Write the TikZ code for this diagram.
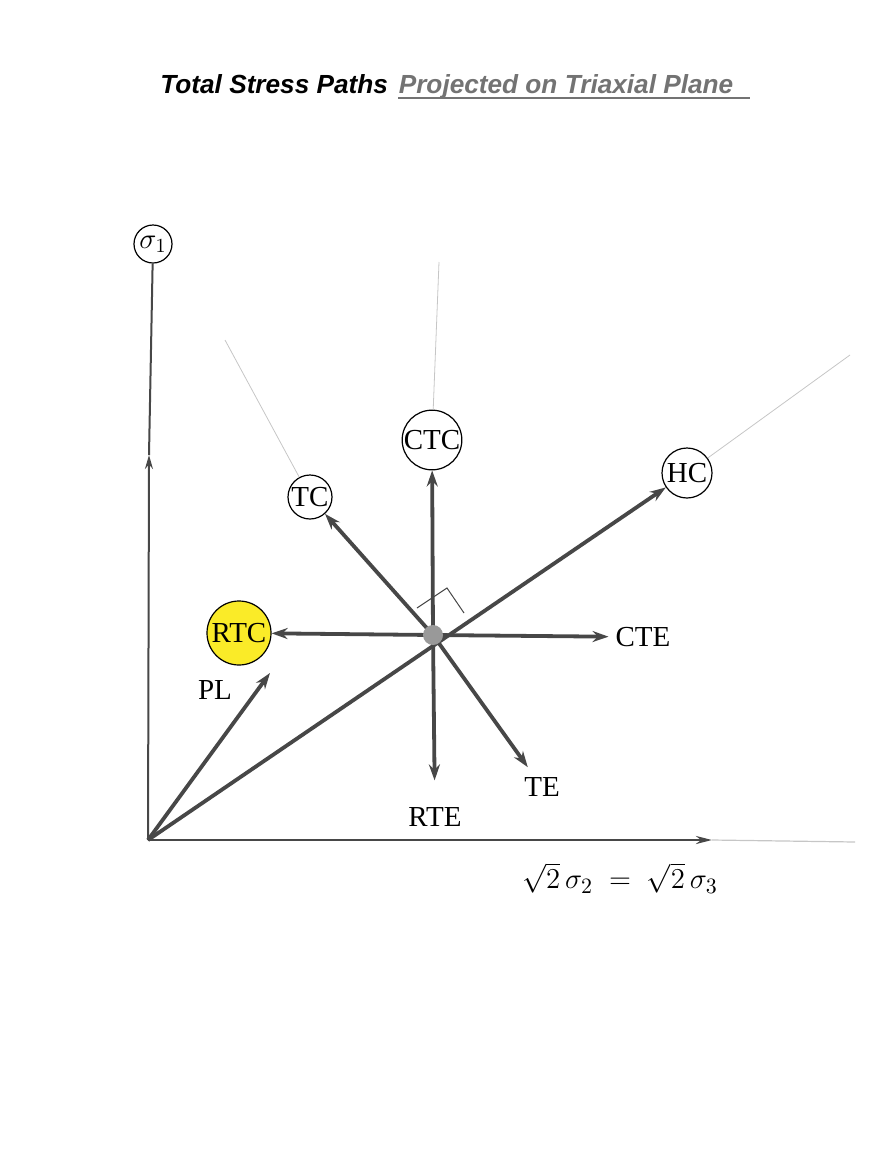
\documentclass[tikz,border=0pt]{standalone}
\usepackage{fontspec}
\setmainfont{Liberation Serif}
\newfontfamily\titlefont{Liberation Sans}
\usetikzlibrary{arrows.meta}

\definecolor{pathgray}{gray}{0.28}
\definecolor{titlegray}{gray}{0.45}
\definecolor{rtcyellow}{RGB}{250,235,40}

\begin{document}
\begin{tikzpicture}[x=0.5pt, y=-0.5pt,
		spath/.style={draw=pathgray, line width=1.9pt, -{Stealth[length=8pt,width=5.5pt]}},
		axis/.style={draw=pathgray, line width=1pt},
		ext/.style={draw=gray!45, line width=0.4pt},
		ring/.style={draw, circle, line width=0.6pt, inner sep=0pt, fill=white},
		lbl/.style={font=\fontsize{14.5}{16}\selectfont},
		ttl/.style={font=\titlefont\bfseries\itshape\fontsize{13.1}{15}\selectfont, inner sep=0pt}]
	
	\useasboundingbox (0,0) rectangle (882,1152);
	
	% title
	\node[ttl, anchor=base west] (title1) at (160,93) {Total Stress Paths};
	\node[ttl, anchor=base west, text=titlegray] (title2) at ([xshift=5pt]title1.base east) {Projected on Triaxial Plane};
	\draw[titlegray, line width=1.2pt] ([yshift=-2.5pt]title2.base west) -- (750,98);
	
	% axes
	\coordinate (O) at (148,840);
	\node[ring, lbl, minimum size=19pt] (s1) at (153,244) {$\sigma_1$};
	\coordinate (s1arr) at (149,455);
	\coordinate (harr) at (712,840);
	\coordinate (hend) at (855,842);
	\draw[axis, -{Stealth[length=7pt,width=4pt]}] (O) -- (s1arr);
	\draw[axis] (s1arr) -- (s1);
	\draw[axis, line width=1.4pt, -{Stealth[length=8pt,width=4pt]}] (O) -- (harr);
	\draw[ext, line width=0.6pt] (harr) -- (hend);
	\node[font=\fontsize{15}{17}\selectfont] (haxis) at (620,878) {$\sqrt{2}\,\sigma_2 \;=\; \sqrt{2}\,\sigma_3$};
	
	% stress paths
	\coordinate (C) at (433,635);
	\node[ring, lbl] (CTC) at (432,440) {CTC};
	\node[ring, lbl, minimum size=22pt] (TC) at (310,497) {TC};
	\node[ring, lbl, minimum size=25pt] (HC) at (687,473) {HC};
	\node[ring, lbl, fill=rtcyellow, minimum size=32pt] (RTC) at (239,633) {RTC};
	\node[lbl] (CTE) at (643,637) {CTE};
	\node[lbl] (RTE) at (435,817) {RTE};
	\node[lbl] (TE) at (542,787) {TE};
	\node[lbl] (PL) at (215,690) {PL};
	\coordinate (PLtip) at (270,673);
	
	\coordinate (CTCend) at (439,262);
	\coordinate (TCend) at (225,340);
	\coordinate (HCend) at (850,355);
	\draw[ext] (CTC) -- (CTCend);
	\draw[ext] (TC) -- (TCend);
	\draw[ext] (HC) -- (HCend);
	
	\draw[spath] (O) -- (HC);
	\draw[spath] (O) -- (PLtip);
	\draw[spath] (C) -- (CTC);
	\draw[spath] (C) -- (TC);
	\draw[spath] (C) -- (RTC);
	\draw[spath] (C) -- (CTE);
	\draw[spath, shorten >=10pt] (C) -- (RTE);
	\draw[spath, shorten >=2pt] (C) -- (TE);
	
	% right angle
	\draw[pathgray, line width=0.5pt] (417,608) -- (447,588) -- (464,613);
	
	\node[circle, fill=gray!80, minimum size=10pt, inner sep=0pt] (Cdot) at (C) {};
	
\end{tikzpicture}
\end{document}
